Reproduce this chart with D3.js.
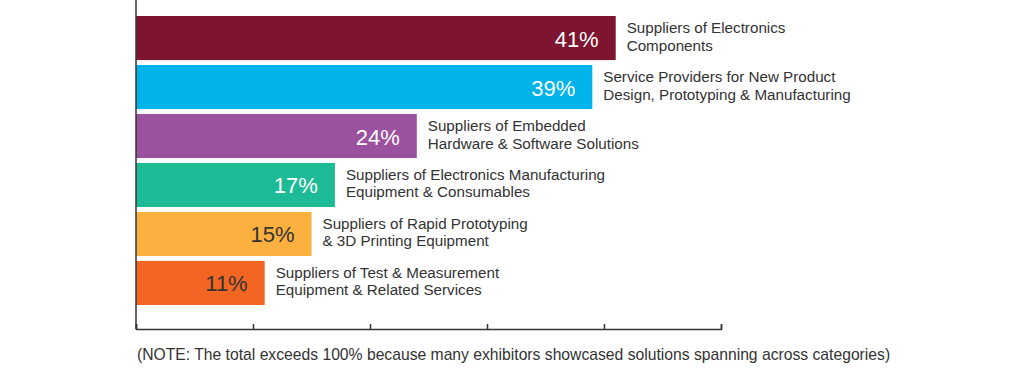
<!DOCTYPE html>
<html>
<head>
<meta charset="utf-8">
<script src="https://cdn.jsdelivr.net/npm/d3@7"></script>
<style>
  html, body { margin: 0; padding: 0; background: #fff; }
  svg { display: block; }
  text { font-family: "Liberation Sans", Arial, sans-serif; }
</style>
</head>
<body>
<svg id="chart" width="1024" height="387"></svg>
<script>
const categories = [
  "Suppliers of Electronics|Components",
  "Service Providers for New Product|Design, Prototyping & Manufacturing",
  "Suppliers of Embedded|Hardware & Software Solutions",
  "Suppliers of Electronics Manufacturing|Equipment & Consumables",
  "Suppliers of Rapid Prototyping|& 3D Printing Equipment",
  "Suppliers of Test & Measurement|Equipment & Related Services"
];
const values = [41, 39, 24, 17, 15, 11];
const colors = ["#7E1430", "#00B3EA", "#9A519E", "#1DBA96", "#FBB040", "#F26522"];
const labelColors = ["#ffffff", "#ffffff", "#ffffff", "#ffffff", "#333333", "#333333"];
const xTicks = [0, 10, 20, 30, 40, 50];
const note = "(NOTE: The total exceeds 100% because many exhibitors showcased solutions spanning across categories)";

const svg = d3.select("#chart");
const x = d3.scaleLinear().domain([0, 50]).range([136, 721]);
const y = d3.scaleBand().domain(categories).range([16, 305]).paddingInner(0.1).paddingOuter(0);
const axisY = 329;

// bars
svg.append("g").selectAll("rect").data(categories).join("rect")
  .attr("x", x(0))
  .attr("y", d => y(d))
  .attr("width", (d, i) => x(values[i]) - x(0))
  .attr("height", y.bandwidth())
  .attr("fill", (d, i) => colors[i]);

// value labels
svg.append("g").selectAll("text").data(categories).join("text")
  .attr("x", (d, i) => x(values[i]) - 17)
  .attr("y", d => y(d) + y.bandwidth() / 2 + 8.5)
  .attr("text-anchor", "end")
  .attr("font-size", 22)
  .attr("fill", (d, i) => labelColors[i])
  .text((d, i) => values[i] + "%");

// category labels
const cl = svg.append("g").selectAll("text").data(categories).join("text")
  .attr("x", (d, i) => x(values[i]) + 11)
  .attr("y", d => y(d) + y.bandwidth() / 2 - 5)
  .attr("font-size", 15.2)
  .attr("fill", "#333333");
cl.each(function(d, i) {
  const parts = d.split("|");
  const t = d3.select(this);
  parts.forEach((p, k) => {
    t.append("tspan").attr("x", x(values[i]) + 11).attr("dy", k === 0 ? 0 : 17.5).text(p);
  });
});

// bottom axis
const xAxis = d3.axisBottom(x).tickValues(xTicks).tickSize(-5).tickSizeOuter(-5).tickFormat("");
const gx = svg.append("g").attr("transform", `translate(0,${axisY})`).call(xAxis);
gx.select(".domain").attr("stroke", "#333").attr("stroke-width", 1.5);
gx.selectAll(".tick line").attr("stroke", "#333").attr("stroke-width", 1.5);

// left axis line
svg.append("line")
  .attr("x1", x(0)).attr("x2", x(0))
  .attr("y1", 0).attr("y2", axisY)
  .attr("stroke", "#333").attr("stroke-width", 1.5);

// note
svg.append("text")
  .attr("x", 137)
  .attr("y", 360)
  .attr("font-size", 15.7)
  .attr("fill", "#333333")
  .text(note);
</script>
</body>
</html>
